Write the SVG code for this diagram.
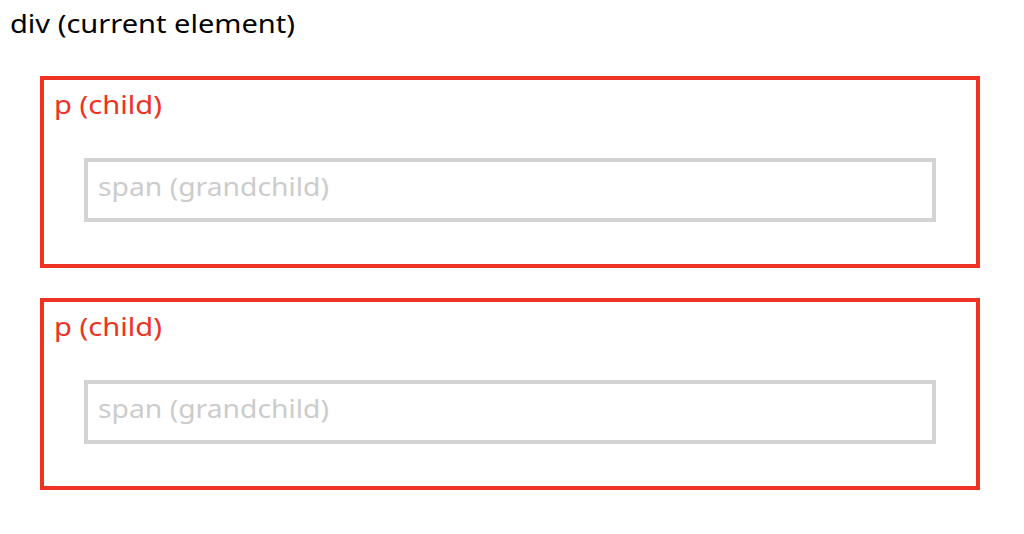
<svg xmlns="http://www.w3.org/2000/svg" width="1024" height="534" viewBox="0 0 1024 534">
<style>
text { font-family: "Noto Sans", "Liberation Sans", sans-serif; font-size: 26px; }
.red { fill: none; stroke: #EE3224; stroke-width: 4; }
.gray { fill: none; stroke: #D3D3D3; stroke-width: 4; }
.rt { fill: #EE3224; }
.gt { fill: #CCCCCC; }
</style>
<rect width="1024" height="534" fill="#FFFFFF"/>
<g id="div">
<text x="10" y="33" fill="#000000" textLength="285" lengthAdjust="spacingAndGlyphs">div (current element)</text>
</g>
<g id="child1">
<rect class="red" x="42" y="78" width="936" height="188"/>
<text class="rt" x="54" y="114" textLength="108" lengthAdjust="spacingAndGlyphs">p (child)</text>
</g>
<g id="grandchild1">
<rect class="gray" x="86" y="160" width="848" height="60"/>
<text class="gt" x="98" y="196" textLength="231" lengthAdjust="spacingAndGlyphs">span (grandchild)</text>
</g>
<g id="child2">
<rect class="red" x="42" y="300" width="936" height="188"/>
<text class="rt" x="54" y="336" textLength="108" lengthAdjust="spacingAndGlyphs">p (child)</text>
</g>
<g id="grandchild2">
<rect class="gray" x="86" y="382" width="848" height="60"/>
<text class="gt" x="98" y="418" textLength="231" lengthAdjust="spacingAndGlyphs">span (grandchild)</text>
</g>
<g id="connectors"></g>
</svg>
